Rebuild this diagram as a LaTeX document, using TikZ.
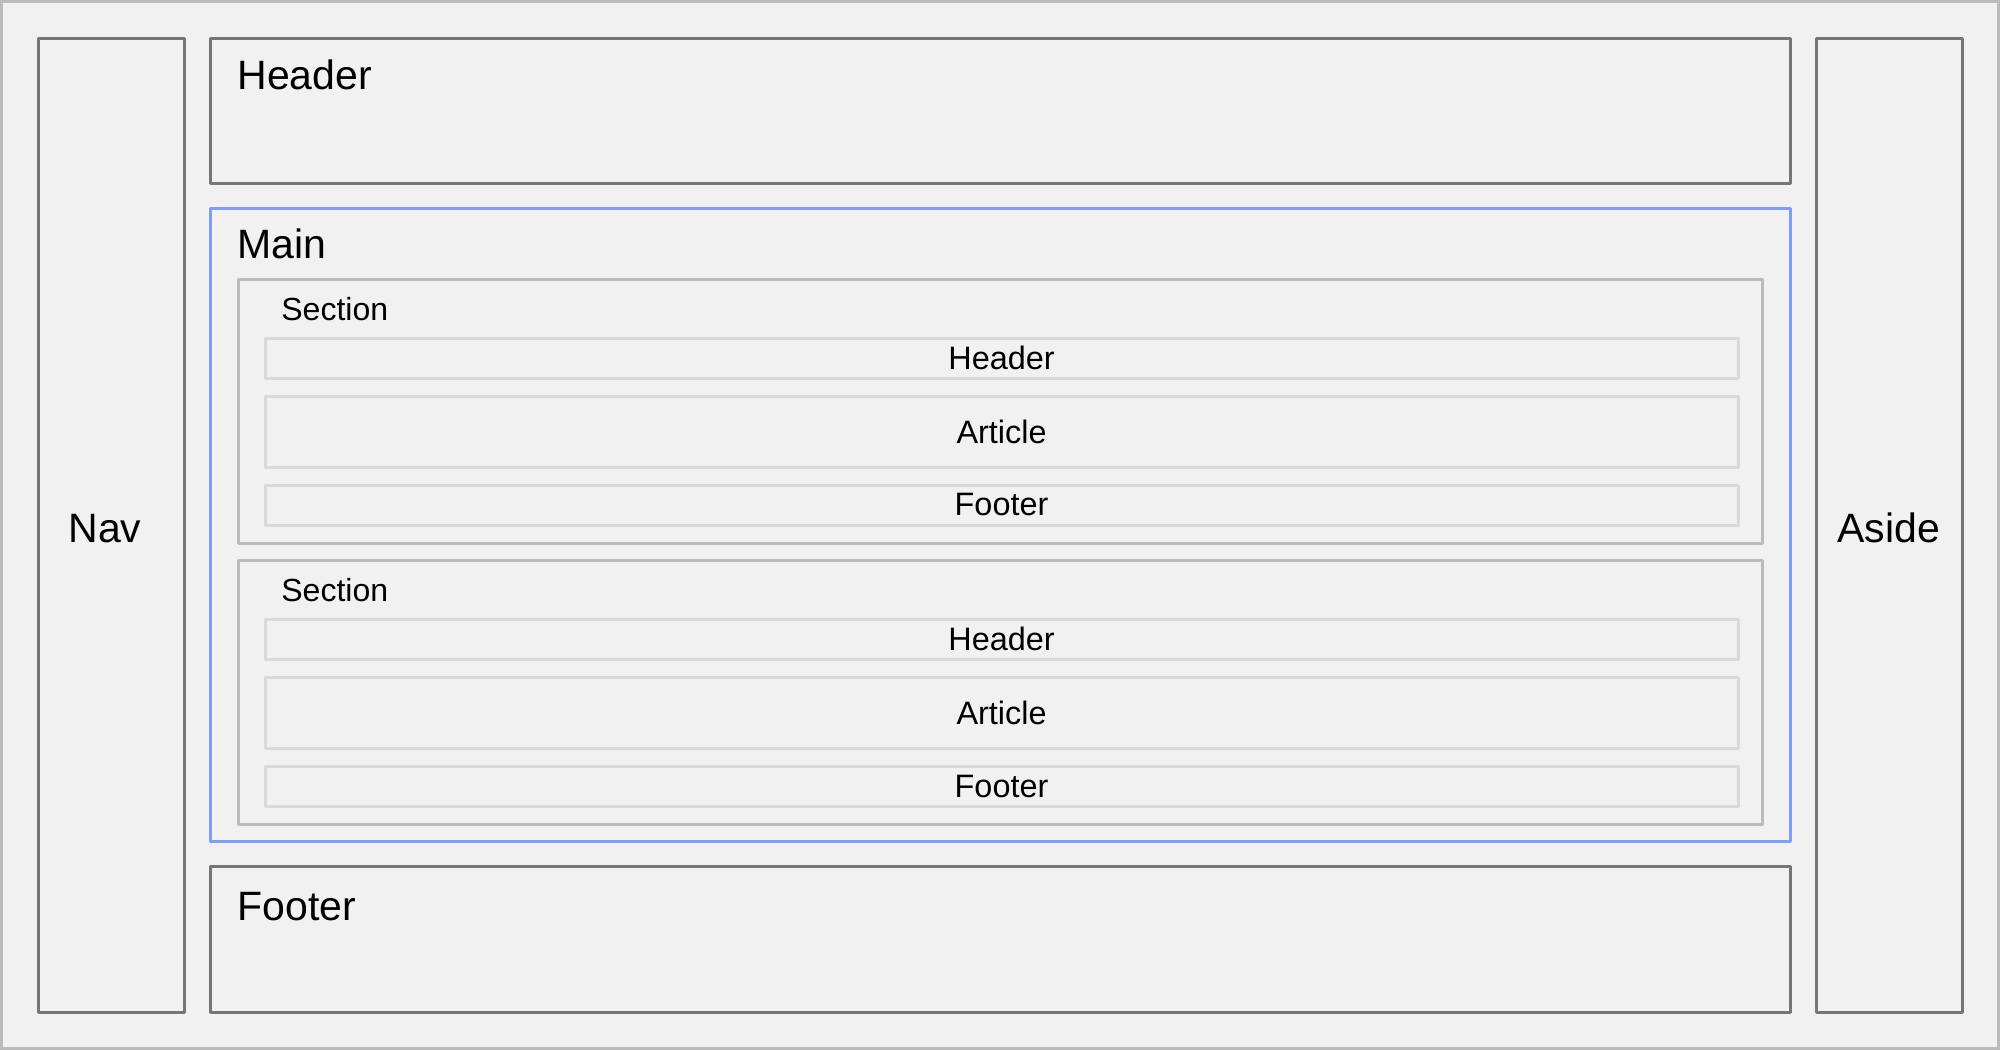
\documentclass[tikz,border=0pt]{standalone}
\usepackage{fontspec}
\setmainfont{Liberation Sans}
\usepackage{xcolor}
\usetikzlibrary{positioning}

\definecolor{pagebg}{HTML}{F1F1F1}
\definecolor{framegray}{HTML}{BBBBBB}
\definecolor{boxgray}{HTML}{767676}
\definecolor{mainblue}{HTML}{7C9CFF}
\definecolor{innergray}{HTML}{D9D9D9}

\begin{document}
\begin{tikzpicture}[x=0.5pt, y=-0.5pt,
  outerbox/.style={rectangle, draw=boxgray, line width=1.5pt, line join=round, inner sep=0pt},
  mainbox/.style={rectangle, draw=mainblue, line width=1.5pt, line join=round, inner sep=0pt},
  sectionbox/.style={rectangle, draw=framegray, line width=1.5pt, line join=round, inner sep=0pt},
  innerbox/.style={rectangle, draw=innergray, line width=1.5pt, line join=round, inner sep=0pt,
    minimum width=736.5pt, font=\fontsize{16.2pt}{19pt}\selectfont},
  biglabel/.style={anchor=base west, inner sep=0pt, font=\fontsize{20.5pt}{24pt}\selectfont},
  seclabel/.style={anchor=base west, inner sep=0pt, font=\fontsize{16pt}{19pt}\selectfont}]

% Page
\useasboundingbox (0,0) rectangle (2000,1050);
\draw[fill=pagebg, draw=framegray, line width=1.5pt] (1.5,1.5) rectangle (1998.5,1048.5);

% Side columns
\node[outerbox, minimum width=73pt, minimum height=487pt] (nav) at (111,525) {};
\node[biglabel] (navtext) at (68,542) {Nav};
\node[outerbox, minimum width=73pt, minimum height=487pt] (aside) at (1889,525) {};
\node[biglabel] (asidetext) at (1837,542) {Aside};

% Page header, main and footer
\node[outerbox, minimum width=790pt, minimum height=72.5pt] (header) at (1000,110.5) {};
\node[biglabel] (headertext) at (237,89) {Header};
\node[mainbox, minimum width=790pt, minimum height=316.5pt] (main) at (1000,524.5) {};
\node[biglabel] (maintext) at (237,258) {Main};
\node[outerbox, minimum width=790pt, minimum height=73pt] (footer) at (1000,939) {};
\node[biglabel] (footertext) at (237,920) {Footer};

% First section
\node[sectionbox, minimum width=762pt, minimum height=132pt] (secA) at (1000,411) {};
\node[seclabel] (secAtext) at (281,320) {Section};
\node[innerbox, minimum height=20pt] (secAheader) at (1001.5,358) {Header};
\node[innerbox, minimum height=35.5pt] (secAarticle) at (1001.5,431.5) {Article};
\node[innerbox, minimum height=20pt] (secAfooter) at (1001.5,505) {Footer};

% Second section
\node[sectionbox, minimum width=762pt, minimum height=132pt] (secB) at (1000,692) {};
\node[seclabel] (secBtext) at (281,601) {Section};
\node[innerbox, minimum height=20pt] (secBheader) at (1001.5,639) {Header};
\node[innerbox, minimum height=35.5pt] (secBarticle) at (1001.5,712.5) {Article};
\node[innerbox, minimum height=20pt] (secBfooter) at (1001.5,786) {Footer};
\end{tikzpicture}
\end{document}
